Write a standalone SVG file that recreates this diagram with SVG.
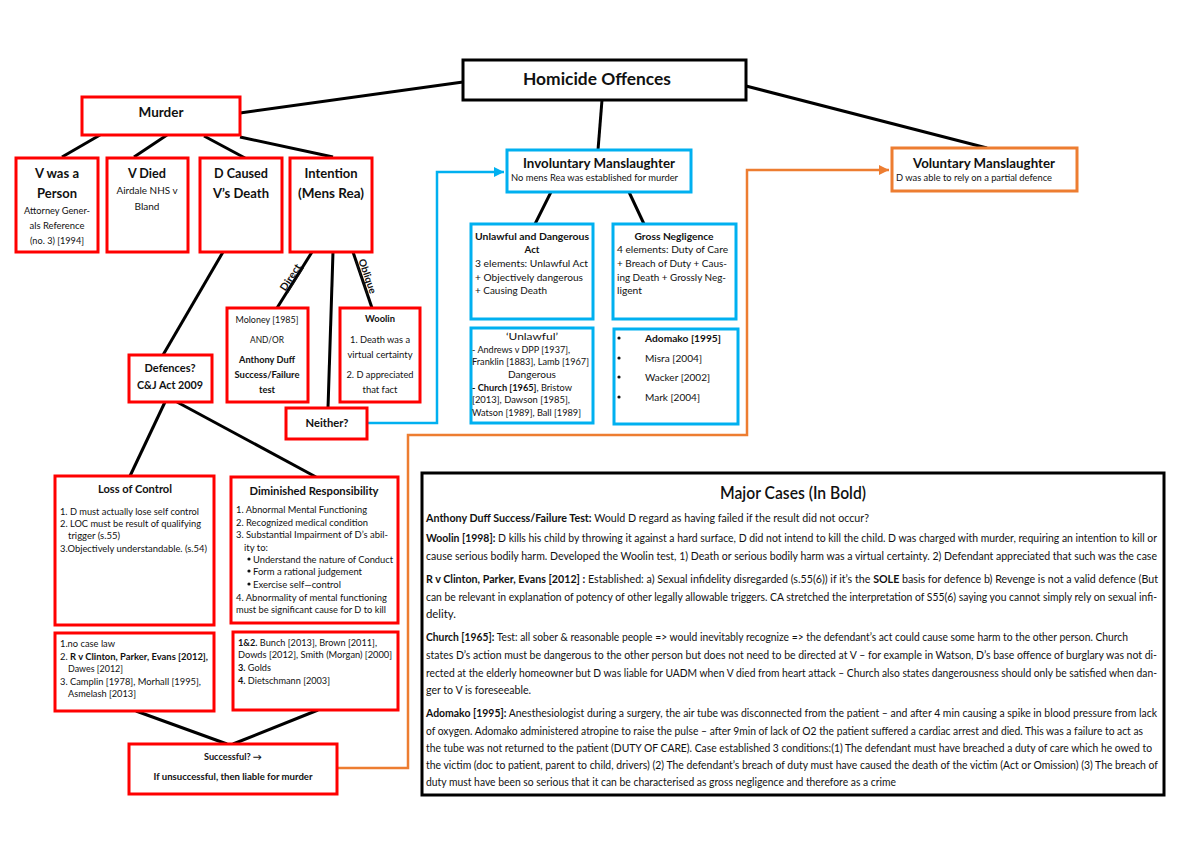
<svg xmlns="http://www.w3.org/2000/svg" width="1200" height="849" viewBox="0 0 1200 849">
<style>
text{font-family:Lato,'Liberation Sans',sans-serif;fill:#111;dominant-baseline:central}
.b{font-weight:bold}
.c{text-anchor:middle}
.red{fill:#fff;stroke:#ff0000;stroke-width:3}
.blue{fill:#fff;stroke:#00b0f0;stroke-width:3}
.org{fill:#fff;stroke:#ed7d31;stroke-width:3}
.blk{fill:#fff;stroke:#000;stroke-width:3}
.ln{stroke:#000;stroke-width:3;fill:none}
.s9{font-size:9.5px}
.s10{font-size:10px}
.s11{font-size:11px}
.s14{font-size:14px}
.mc{font-size:11px}
</style>
<defs>
<marker id="ab" viewBox="0 0 10 10" refX="10" refY="5" markerWidth="4" markerHeight="4" orient="auto"><path d="M0,0 L10,5 L0,10 z" fill="#00b0f0"/></marker>
<marker id="ao" viewBox="0 0 10 10" refX="10" refY="5" markerWidth="4" markerHeight="4" orient="auto"><path d="M0,0 L10,5 L0,10 z" fill="#ed7d31"/></marker>
</defs>
<rect width="1200" height="849" fill="#fff"/>

<g id="connectors">
<line class="ln" x1="240" y1="113" x2="463" y2="82"/>
<line class="ln" x1="602" y1="100" x2="598" y2="150"/>
<line class="ln" x1="746" y1="86" x2="987" y2="148"/>
<line class="ln" x1="100" y1="135" x2="62" y2="157"/>
<line class="ln" x1="167" y1="135" x2="134" y2="157"/>
<line class="ln" x1="204" y1="136" x2="245" y2="158"/>
<line class="ln" x1="240" y1="137" x2="333" y2="157"/>
<line class="ln" x1="223" y1="252" x2="163" y2="355"/>
<line class="ln" x1="312" y1="252" x2="277" y2="308"/>
<line class="ln" x1="333" y1="252" x2="328" y2="408"/>
<line class="ln" x1="353" y1="252" x2="372" y2="308"/>
<line class="ln" x1="165" y1="402" x2="130" y2="476"/>
<line class="ln" x1="177" y1="402" x2="316" y2="477"/>
<line class="ln" x1="136" y1="711" x2="227" y2="744"/>
<line class="ln" x1="318" y1="710" x2="233" y2="744"/>
<line class="ln" x1="551" y1="192" x2="535" y2="224"/>
<line class="ln" x1="629" y1="192" x2="644" y2="224"/>
<polyline points="367,423 437,423 437,172 504,172" fill="none" stroke="#00b0f0" stroke-width="2.5" marker-end="url(#ab)"/>
<polyline points="337,768 408,768 408,435 747,435 747,170 889,170" fill="none" stroke="#ed7d31" stroke-width="2.5" marker-end="url(#ao)"/>
<text class="b s10" transform="translate(290,277) rotate(-57.5)" text-anchor="middle" text-decoration="underline" textLength="30" lengthAdjust="spacingAndGlyphs">Direct</text>
<text class="b s10" transform="translate(368,276) rotate(71)" text-anchor="middle" text-decoration="underline" textLength="36" lengthAdjust="spacingAndGlyphs">Oblique</text>
</g>

<g id="homicide">
<rect class="blk" x="463" y="60" width="283" height="40"/>
<text class="b c" x="597" y="78" font-size="17" textLength="148" lengthAdjust="spacingAndGlyphs">Homicide Offences</text>
</g>

<g id="murder">
<rect class="red" x="82" y="97" width="158" height="38"/>
<text class="b c" x="161" y="112" font-size="13" textLength="45" lengthAdjust="spacingAndGlyphs">Murder</text>
</g>

<g id="v-person">
<rect class="red" x="16" y="158" width="82" height="94"/>
<text class="b c s14" x="57" y="172" textLength="44" lengthAdjust="spacingAndGlyphs">V was a</text>
<text class="b c s14" x="57" y="192" textLength="40" lengthAdjust="spacingAndGlyphs">Person</text>
<text class="c s10" x="57" y="210" textLength="66" lengthAdjust="spacingAndGlyphs">Attorney Gener-</text>
<text class="c s10" x="57" y="225" textLength="55" lengthAdjust="spacingAndGlyphs">als Reference</text>
<text class="c s10" x="57" y="240" textLength="54" lengthAdjust="spacingAndGlyphs">(no. 3) [1994]</text>
</g>

<g id="v-died">
<rect class="red" x="107" y="158" width="81" height="94"/>
<text class="b c s14" x="147" y="172" textLength="38" lengthAdjust="spacingAndGlyphs">V Died</text>
<text class="c s10" x="147" y="190" textLength="61" lengthAdjust="spacingAndGlyphs">Airdale NHS v</text>
<text class="c s10" x="147" y="206" textLength="25" lengthAdjust="spacingAndGlyphs">Bland</text>
</g>

<g id="d-caused">
<rect class="red" x="200" y="158" width="82" height="94"/>
<text class="b c s14" x="241" y="172" textLength="54" lengthAdjust="spacingAndGlyphs">D Caused</text>
<text class="b c s14" x="241" y="192" textLength="56" lengthAdjust="spacingAndGlyphs">V’s Death</text>
</g>

<g id="intention">
<rect class="red" x="290" y="158" width="82" height="94"/>
<text class="b c s14" x="331" y="172" textLength="53" lengthAdjust="spacingAndGlyphs">Intention</text>
<text class="b c s14" x="331" y="192" textLength="66" lengthAdjust="spacingAndGlyphs">(Mens Rea)</text>
</g>

<g id="moloney">
<rect class="red" x="227" y="308" width="81" height="94"/>
<text class="c s9" x="267" y="319" textLength="63" lengthAdjust="spacingAndGlyphs">Moloney [1985]</text>
<text class="c s9" x="267" y="339" textLength="34" lengthAdjust="spacingAndGlyphs">AND/OR</text>
<text class="b c s9" x="267" y="359" textLength="56" lengthAdjust="spacingAndGlyphs">Anthony Duff</text>
<text class="b c s9" x="267" y="374" textLength="65" lengthAdjust="spacingAndGlyphs">Success/Failure</text>
<text class="b c s9" x="267" y="389" textLength="16" lengthAdjust="spacingAndGlyphs">test</text>
</g>

<g id="woolin">
<rect class="red" x="340" y="308" width="80" height="94"/>
<text class="b c s9" x="380" y="318" textLength="30" lengthAdjust="spacingAndGlyphs">Woolin</text>
<text class="c s9" x="380" y="339" textLength="60" lengthAdjust="spacingAndGlyphs">1. Death was a</text>
<text class="c s9" x="380" y="354" textLength="65" lengthAdjust="spacingAndGlyphs">virtual certainty</text>
<text class="c s9" x="380" y="374" textLength="67" lengthAdjust="spacingAndGlyphs">2. D appreciated</text>
<text class="c s9" x="380" y="389" textLength="35" lengthAdjust="spacingAndGlyphs">that fact</text>
</g>

<g id="neither">
<rect class="red" x="286" y="408" width="81" height="31"/>
<text class="b c" x="327" y="422" font-size="12" textLength="43" lengthAdjust="spacingAndGlyphs">Neither?</text>
</g>

<g id="defences">
<rect class="red" x="129" y="355" width="83" height="47"/>
<text class="b c" x="170" y="367" font-size="12" textLength="51" lengthAdjust="spacingAndGlyphs">Defences?</text>
<text class="b c" x="170" y="384" font-size="12" textLength="66" lengthAdjust="spacingAndGlyphs">C&amp;J Act 2009</text>
</g>

<g id="loss-of-control">
<rect class="red" x="55" y="476" width="159" height="149"/>
<text class="b c s11" x="135" y="488" textLength="74" lengthAdjust="spacingAndGlyphs">Loss of Control</text>
<text class="s9" x="60" y="511" textLength="139" lengthAdjust="spacingAndGlyphs">1. D must actually lose self control</text>
<text class="s9" x="60" y="523" textLength="141" lengthAdjust="spacingAndGlyphs">2.  LOC must be result of qualifying</text>
<text class="s9" x="68" y="535" textLength="52" lengthAdjust="spacingAndGlyphs">trigger (s.55)</text>
<text class="s9" x="60" y="548" textLength="147" lengthAdjust="spacingAndGlyphs">3.Objectively understandable. (s.54)</text>
</g>

<g id="diminished">
<rect class="red" x="231" y="477" width="167" height="146"/>
<text class="b c s11" x="314" y="490" textLength="129" lengthAdjust="spacingAndGlyphs">Diminished Responsibility</text>
<text class="s9" x="236" y="509" textLength="131" lengthAdjust="spacingAndGlyphs">1. Abnormal Mental Functioning</text>
<text class="s9" x="236" y="522" textLength="132" lengthAdjust="spacingAndGlyphs">2.  Recognized medical condition</text>
<text class="s9" x="236" y="534" textLength="152" lengthAdjust="spacingAndGlyphs">3.  Substantial Impairment of D’s abil-</text>
<text class="s9" x="244" y="547" textLength="24" lengthAdjust="spacingAndGlyphs">ity to:</text>
<circle cx="249" cy="559" r="1.6" fill="#111"/>
<text class="s9" x="253" y="559" textLength="140" lengthAdjust="spacingAndGlyphs">Understand the nature of Conduct</text>
<circle cx="249" cy="571" r="1.6" fill="#111"/>
<text class="s9" x="253" y="571" textLength="109" lengthAdjust="spacingAndGlyphs">Form a rational judgement</text>
<circle cx="249" cy="584" r="1.6" fill="#111"/>
<text class="s9" x="253" y="584" textLength="88" lengthAdjust="spacingAndGlyphs">Exercise self—control</text>
<text class="s9" x="236" y="597" textLength="151" lengthAdjust="spacingAndGlyphs">4. Abnormality of mental functioning</text>
<text class="s9" x="236" y="609" textLength="150" lengthAdjust="spacingAndGlyphs">must be significant cause for D to kill</text>
</g>

<g id="loc-cases">
<rect class="red" x="55" y="633" width="159" height="78"/>
<text class="s9" x="60" y="643" textLength="55" lengthAdjust="spacingAndGlyphs">1.no case law</text>
<text class="s9" x="60" y="656" textLength="148" lengthAdjust="spacingAndGlyphs">2.  <tspan class="b">R v Clinton, Parker, Evans [2012],</tspan></text>
<text class="s9" x="68" y="668" textLength="55" lengthAdjust="spacingAndGlyphs">Dawes [2012]</text>
<text class="s9" x="60" y="681" textLength="141" lengthAdjust="spacingAndGlyphs">3.  Camplin [1978], Morhall [1995],</text>
<text class="s9" x="68" y="693" textLength="68" lengthAdjust="spacingAndGlyphs">Asmelash [2013]</text>
</g>

<g id="dr-cases">
<rect class="red" x="233" y="632" width="165" height="78"/>
<text class="s9" x="238" y="642" textLength="139" lengthAdjust="spacingAndGlyphs"><tspan class="b">1&amp;2.</tspan> Bunch [2013], Brown [2011],</text>
<text class="s9" x="238" y="654" textLength="154" lengthAdjust="spacingAndGlyphs">Dowds [2012], Smith (Morgan) [2000]</text>
<text class="s9" x="238" y="667" textLength="33" lengthAdjust="spacingAndGlyphs"><tspan class="b">3.</tspan> Golds</text>
<text class="s9" x="238" y="680" textLength="92" lengthAdjust="spacingAndGlyphs"><tspan class="b">4.</tspan> Dietschmann [2003]</text>
</g>

<g id="successful">
<rect class="red" x="129" y="744" width="208" height="50"/>
<text class="b c" x="233" y="756" font-size="9" textLength="58" lengthAdjust="spacingAndGlyphs">Successful? →</text>
<text class="b c" x="233" y="776" font-size="9" textLength="159" lengthAdjust="spacingAndGlyphs">If unsuccessful, then liable for murder</text>
</g>

<g id="involuntary">
<rect class="blue" x="507" y="150" width="184" height="42"/>
<text class="b c" x="599" y="163" font-size="13.5" textLength="152" lengthAdjust="spacingAndGlyphs">Involuntary Manslaughter</text>
<text class="s9" x="511" y="177" textLength="167" lengthAdjust="spacingAndGlyphs">No mens Rea was established for murder</text>
</g>

<g id="voluntary">
<rect class="org" x="892" y="148" width="185" height="43"/>
<text class="b c" x="984" y="163" font-size="13.5" textLength="142" lengthAdjust="spacingAndGlyphs">Voluntary Manslaughter</text>
<text class="s9" x="896" y="177" textLength="156" lengthAdjust="spacingAndGlyphs">D was able to rely on a partial defence</text>
</g>

<g id="unlawful-act">
<rect class="blue" x="471" y="224" width="122" height="95"/>
<text class="b c s10" x="532" y="236" textLength="114" lengthAdjust="spacingAndGlyphs">Unlawful and Dangerous</text>
<text class="b c s10" x="532" y="249" textLength="15" lengthAdjust="spacingAndGlyphs">Act</text>
<text class="s10" x="475" y="263" textLength="113" lengthAdjust="spacingAndGlyphs">3 elements: Unlawful Act</text>
<text class="s10" x="475" y="277" textLength="108" lengthAdjust="spacingAndGlyphs">+ Objectively dangerous</text>
<text class="s10" x="475" y="290" textLength="72" lengthAdjust="spacingAndGlyphs">+ Causing Death</text>
</g>

<g id="gross-negligence">
<rect class="blue" x="613" y="224" width="123" height="95"/>
<text class="b c s10" x="674" y="236" textLength="79" lengthAdjust="spacingAndGlyphs">Gross Negligence</text>
<text class="s10" x="617" y="249" textLength="111" lengthAdjust="spacingAndGlyphs">4 elements: Duty of Care</text>
<text class="s10" x="617" y="263" textLength="110" lengthAdjust="spacingAndGlyphs">+ Breach of Duty + Caus-</text>
<text class="s10" x="617" y="277" textLength="109" lengthAdjust="spacingAndGlyphs">ing Death + Grossly Neg-</text>
<text class="s10" x="617" y="290" textLength="25" lengthAdjust="spacingAndGlyphs">ligent</text>
</g>

<g id="unlawful-cases">
<rect class="blue" x="471" y="328" width="122" height="95"/>
<text class="c s10" x="532" y="336" textLength="52" lengthAdjust="spacingAndGlyphs">‘Unlawful’</text>
<text class="s9" x="472" y="349" textLength="98" lengthAdjust="spacingAndGlyphs">- Andrews v DPP [1937],</text>
<text class="s9" x="472" y="361" textLength="117" lengthAdjust="spacingAndGlyphs">Franklin [1883], Lamb [1967]</text>
<text class="c s10" x="532" y="374" textLength="48" lengthAdjust="spacingAndGlyphs">Dangerous</text>
<text class="s9" x="472" y="387" textLength="100" lengthAdjust="spacingAndGlyphs"><tspan class="b">- Church [1965]</tspan>, Bristow</text>
<text class="s9" x="472" y="399" textLength="98" lengthAdjust="spacingAndGlyphs">[2013], Dawson [1985],</text>
<text class="s9" x="472" y="412" textLength="109" lengthAdjust="spacingAndGlyphs">Watson [1989], Ball [1989]</text>
</g>

<g id="gn-cases">
<rect class="blue" x="614" y="329" width="124" height="95"/>
<circle cx="619" cy="338" r="1.6" fill="#111"/>
<text class="b s10" x="645" y="338" textLength="76" lengthAdjust="spacingAndGlyphs">Adomako [1995]</text>
<circle cx="619" cy="358" r="1.6" fill="#111"/>
<text class="s10" x="645" y="358" textLength="57" lengthAdjust="spacingAndGlyphs">Misra [2004]</text>
<circle cx="619" cy="377" r="1.6" fill="#111"/>
<text class="s10" x="645" y="377" textLength="65" lengthAdjust="spacingAndGlyphs">Wacker [2002]</text>
<circle cx="619" cy="397" r="1.6" fill="#111"/>
<text class="s10" x="645" y="397" textLength="55" lengthAdjust="spacingAndGlyphs">Mark [2004]</text>
</g>

<g id="major-cases">
<rect class="blk" x="422" y="473" width="742" height="322"/>
<text class="c" x="793" y="492" font-size="17" font-weight="600" textLength="146" lengthAdjust="spacingAndGlyphs">Major Cases (In Bold)</text>
<text class="mc" x="426" y="517" textLength="443" lengthAdjust="spacingAndGlyphs"><tspan class="b">Anthony Duff Success/Failure Test:</tspan> Would D regard as having failed if the result did not occur?</text>
<text class="mc" x="426" y="537" textLength="731" lengthAdjust="spacingAndGlyphs"><tspan class="b">Woolin [1998]:</tspan> D kills his child by throwing it against a hard surface, D did not intend to kill the child. D was charged with murder, requiring an intention to kill or</text>
<text class="mc" x="426" y="555" textLength="731" lengthAdjust="spacingAndGlyphs">cause serious bodily harm. Developed the Woolin test, 1) Death or serious bodily harm was a virtual certainty. 2) Defendant appreciated that such was the case</text>
<text class="mc" x="426" y="578" textLength="732" lengthAdjust="spacingAndGlyphs"><tspan class="b">R v Clinton, Parker, Evans [2012] :</tspan> Established: a) Sexual infidelity disregarded (s.55(6)) if it’s the <tspan class="b">SOLE</tspan> basis for defence b) Revenge is not a valid defence (But</text>
<text class="mc" x="426" y="596" textLength="731" lengthAdjust="spacingAndGlyphs">can be relevant in explanation of potency of other legally allowable triggers. CA stretched the interpretation of S55(6) saying you cannot simply rely on sexual infi-</text>
<text class="mc" x="426" y="613" textLength="30" lengthAdjust="spacingAndGlyphs">delity.</text>
<text class="mc" x="426" y="636" textLength="702" lengthAdjust="spacingAndGlyphs"><tspan class="b">Church [1965]:</tspan> Test: all sober &amp; reasonable people =&gt; would inevitably recognize =&gt; the defendant’s act could cause some harm to the other person. Church</text>
<text class="mc" x="426" y="654" textLength="731" lengthAdjust="spacingAndGlyphs">states D’s action must be dangerous to the other person but does not need to be directed at V – for example in Watson, D’s base offence of burglary was not di-</text>
<text class="mc" x="426" y="672" textLength="731" lengthAdjust="spacingAndGlyphs">rected at the elderly homeowner but D was liable for UADM when V died from heart attack – Church also states dangerousness should only be satisfied when dan-</text>
<text class="mc" x="426" y="689" textLength="105" lengthAdjust="spacingAndGlyphs">ger to V is foreseeable.</text>
<text class="mc" x="426" y="712" textLength="731" lengthAdjust="spacingAndGlyphs"><tspan class="b">Adomako [1995]:</tspan> Anesthesiologist during a surgery, the air tube was disconnected from the patient – and after 4 min causing a spike in blood pressure from lack</text>
<text class="mc" x="426" y="730" textLength="717" lengthAdjust="spacingAndGlyphs">of oxygen. Adomako administered atropine to raise the pulse – after 9min of lack of O2 the patient suffered a cardiac arrest and died. This was a failure to act as</text>
<text class="mc" x="426" y="747" textLength="726" lengthAdjust="spacingAndGlyphs">the tube was not returned to the patient (DUTY OF CARE).  Case established 3 conditions:(1) The defendant must have breached a duty of care which he owed to</text>
<text class="mc" x="426" y="764" textLength="732" lengthAdjust="spacingAndGlyphs">the victim (doc to patient, parent to child, drivers) (2) The defendant’s breach of duty must have caused the death of the victim (Act or Omission) (3) The breach of</text>
<text class="mc" x="426" y="781" textLength="470" lengthAdjust="spacingAndGlyphs">duty must have been so serious that it can be characterised as gross negligence and therefore as a crime</text>
</g>
</svg>
